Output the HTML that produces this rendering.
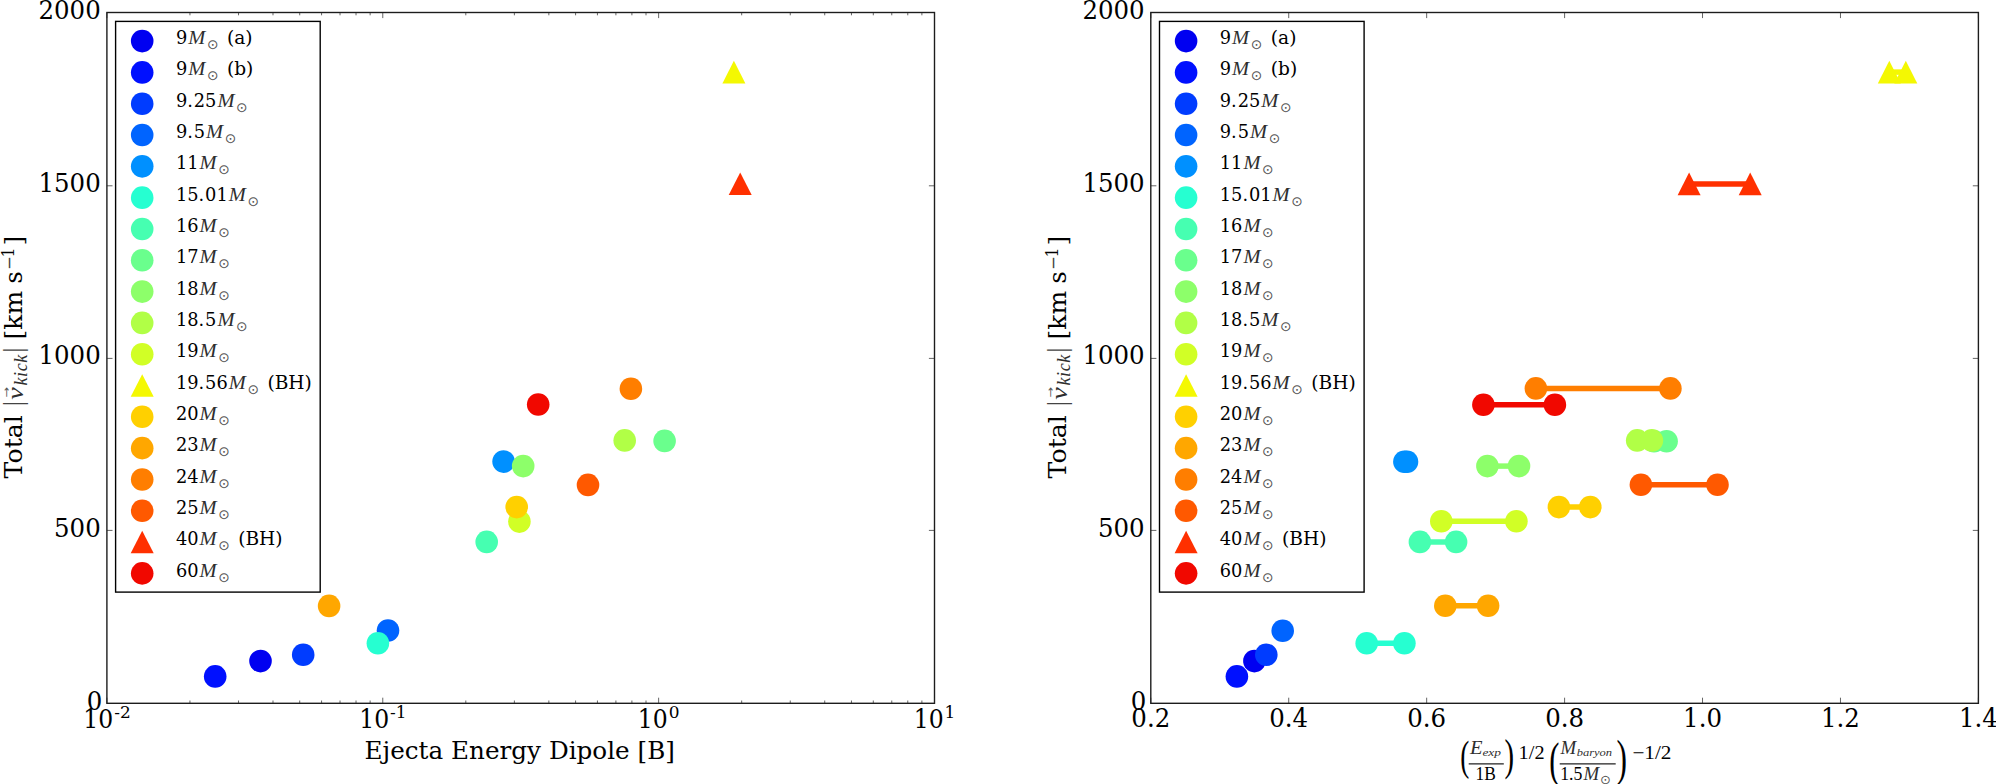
<!DOCTYPE html>
<html lang="en"><head><meta charset="utf-8"><title>Kick velocity vs ejecta energy dipole</title>
<style>
html,body{margin:0;padding:0;background:#fff}
body{width:1996px;height:784px;overflow:hidden}
svg{display:block}
text{font-family:'DejaVu Serif','Liberation Serif',serif;fill:#000}
.mi{font-family:'Liberation Serif','DejaVu Serif',serif;font-style:italic;fill:#2e2e2e}
.mr{font-family:'Liberation Serif','DejaVu Serif',serif}
.bar{fill:#444}
.sun{font-family:'DejaVu Sans','Liberation Sans',sans-serif;fill:#555}
</style></head><body>
<svg width="1996" height="784" viewBox="0 0 1996 784">
<rect width="1996" height="784" fill="#fff"/>
<g id="axes-left">
<circle cx="260.5" cy="661.1" r="11.3" fill="#0000f1"/>
<circle cx="215.2" cy="676.4" r="11.3" fill="#0010ff"/>
<circle cx="303.2" cy="654.8" r="11.3" fill="#003cff"/>
<circle cx="388" cy="630.5" r="11.3" fill="#0064ff"/>
<circle cx="503.6" cy="461.6" r="11.3" fill="#0090ff"/>
<circle cx="377.9" cy="643.2" r="11.3" fill="#26ffd1"/>
<circle cx="486.7" cy="541.9" r="11.3" fill="#46ffb1"/>
<circle cx="664.6" cy="440.9" r="11.3" fill="#6aff8d"/>
<circle cx="523.2" cy="466.1" r="11.3" fill="#8dff6a"/>
<circle cx="624.7" cy="440.4" r="11.3" fill="#b1ff46"/>
<circle cx="519.4" cy="521.6" r="11.3" fill="#d1ff26"/>
<polygon points="733.9,60.8 722.4,83.4 745.4,83.4" fill="#f4f802"/>
<circle cx="516.7" cy="507.1" r="11.3" fill="#ffd000"/>
<circle cx="329.1" cy="605.9" r="11.3" fill="#ffa700"/>
<circle cx="630.9" cy="388.7" r="11.3" fill="#ff7e00"/>
<circle cx="588" cy="484.9" r="11.3" fill="#ff5900"/>
<polygon points="740.2,172.5 728.7,195.1 751.7,195.1" fill="#ff3000"/>
<circle cx="538.2" cy="404.5" r="11.3" fill="#f10800"/>
<rect x="106.9" y="12.5" width="827.6" height="690.8" fill="none" stroke="#1c1c1c" stroke-width="1.39"/>
<text transform="translate(102.3 709.5) scale(0.955 1)" font-size="25.6" text-anchor="end">0</text>
<path d="M106.9 530.4h5.6M934.5 530.4h-5.6" stroke="#222" stroke-width="0.7"/>
<text transform="translate(100.7 536.5) scale(0.955 1)" font-size="25.6" text-anchor="end">500</text>
<path d="M106.9 358.4h5.6M934.5 358.4h-5.6" stroke="#222" stroke-width="0.7"/>
<text transform="translate(100.7 364.1) scale(0.955 1)" font-size="25.6" text-anchor="end">1000</text>
<path d="M106.9 185.8h5.6M934.5 185.8h-5.6" stroke="#222" stroke-width="0.7"/>
<text transform="translate(100.7 191.8) scale(0.955 1)" font-size="25.6" text-anchor="end">1500</text>
<text transform="translate(100.7 19.2) scale(0.955 1)" font-size="25.6" text-anchor="end">2000</text>
<path d="M106.9 703.3v-5.6M106.9 12.5v5.6" stroke="#222" stroke-width="0.7"/>
<path d="M189.94 703.3v-2.8M189.94 12.5v2.8" stroke="#222" stroke-width="0.7"/>
<path d="M238.52 703.3v-2.8M238.52 12.5v2.8" stroke="#222" stroke-width="0.7"/>
<path d="M272.99 703.3v-2.8M272.99 12.5v2.8" stroke="#222" stroke-width="0.7"/>
<path d="M299.72 703.3v-2.8M299.72 12.5v2.8" stroke="#222" stroke-width="0.7"/>
<path d="M321.57 703.3v-2.8M321.57 12.5v2.8" stroke="#222" stroke-width="0.7"/>
<path d="M340.03 703.3v-2.8M340.03 12.5v2.8" stroke="#222" stroke-width="0.7"/>
<path d="M356.03 703.3v-2.8M356.03 12.5v2.8" stroke="#222" stroke-width="0.7"/>
<path d="M370.14 703.3v-2.8M370.14 12.5v2.8" stroke="#222" stroke-width="0.7"/>
<text transform="translate(83.3 727.6) scale(0.92 1)" font-size="25.6">10</text>
<text transform="translate(114.2 718.2) scale(0.97 1)" font-size="17.5">-2</text>
<path d="M382.77 703.3v-5.6M382.77 12.5v5.6" stroke="#222" stroke-width="0.7"/>
<path d="M465.81 703.3v-2.8M465.81 12.5v2.8" stroke="#222" stroke-width="0.7"/>
<path d="M514.39 703.3v-2.8M514.39 12.5v2.8" stroke="#222" stroke-width="0.7"/>
<path d="M548.85 703.3v-2.8M548.85 12.5v2.8" stroke="#222" stroke-width="0.7"/>
<path d="M575.59 703.3v-2.8M575.59 12.5v2.8" stroke="#222" stroke-width="0.7"/>
<path d="M597.43 703.3v-2.8M597.43 12.5v2.8" stroke="#222" stroke-width="0.7"/>
<path d="M615.9 703.3v-2.8M615.9 12.5v2.8" stroke="#222" stroke-width="0.7"/>
<path d="M631.9 703.3v-2.8M631.9 12.5v2.8" stroke="#222" stroke-width="0.7"/>
<path d="M646.01 703.3v-2.8M646.01 12.5v2.8" stroke="#222" stroke-width="0.7"/>
<text transform="translate(359.17 727.6) scale(0.92 1)" font-size="25.6">10</text>
<text transform="translate(390.07 718.2) scale(0.97 1)" font-size="17.5">-1</text>
<path d="M658.63 703.3v-5.6M658.63 12.5v5.6" stroke="#222" stroke-width="0.7"/>
<path d="M741.68 703.3v-2.8M741.68 12.5v2.8" stroke="#222" stroke-width="0.7"/>
<path d="M790.26 703.3v-2.8M790.26 12.5v2.8" stroke="#222" stroke-width="0.7"/>
<path d="M824.72 703.3v-2.8M824.72 12.5v2.8" stroke="#222" stroke-width="0.7"/>
<path d="M851.46 703.3v-2.8M851.46 12.5v2.8" stroke="#222" stroke-width="0.7"/>
<path d="M873.3 703.3v-2.8M873.3 12.5v2.8" stroke="#222" stroke-width="0.7"/>
<path d="M891.77 703.3v-2.8M891.77 12.5v2.8" stroke="#222" stroke-width="0.7"/>
<path d="M907.77 703.3v-2.8M907.77 12.5v2.8" stroke="#222" stroke-width="0.7"/>
<path d="M921.88 703.3v-2.8M921.88 12.5v2.8" stroke="#222" stroke-width="0.7"/>
<text transform="translate(637.83 727.6) scale(0.92 1)" font-size="25.6">10</text>
<text transform="translate(668.73 718.2) scale(0.97 1)" font-size="17.5">0</text>
<path d="M934.5 703.3v-5.6M934.5 12.5v5.6" stroke="#222" stroke-width="0.7"/>
<text transform="translate(913.7 727.6) scale(0.92 1)" font-size="25.6">10</text>
<text transform="translate(944.6 718.2) scale(0.97 1)" font-size="17.5">1</text>
<rect x="115.6" y="21.4" width="204.6" height="570.7" fill="#fff" stroke="#000" stroke-width="1.39"/>
<circle cx="142.2" cy="41.1" r="11.3" fill="#0000f1"/>
<text transform="translate(175.9 43.8) scale(1 1)" x="0" font-size="17.8">9</text>
<text transform="translate(188.2 43.8) scale(1.15 1)" font-size="17.8" class="mi">M</text>
<text transform="translate(212.7 48.8)" font-size="13.8" class="sun" text-anchor="middle">⊙</text>
<text transform="translate(226.9 43.8) scale(1.045 1)" font-size="17.8">(a)</text>
<circle cx="142.2" cy="72.41" r="11.3" fill="#0010ff"/>
<text transform="translate(175.9 75.15) scale(1 1)" x="0" font-size="17.8">9</text>
<text transform="translate(188.2 75.15) scale(1.15 1)" font-size="17.8" class="mi">M</text>
<text transform="translate(212.7 80.15)" font-size="13.8" class="sun" text-anchor="middle">⊙</text>
<text transform="translate(226.9 75.15) scale(1.045 1)" font-size="17.8">(b)</text>
<circle cx="142.2" cy="103.72" r="11.3" fill="#003cff"/>
<text transform="translate(175.9 106.5) scale(1 1)" x="0 11.3 17.9 29.2" font-size="17.8">9.25</text>
<text transform="translate(217.4 106.5) scale(1.15 1)" font-size="17.8" class="mi">M</text>
<text transform="translate(241.9 111.5)" font-size="13.8" class="sun" text-anchor="middle">⊙</text>
<circle cx="142.2" cy="135.03" r="11.3" fill="#0064ff"/>
<text transform="translate(175.9 137.85) scale(1 1)" x="0 11.3 17.9" font-size="17.8">9.5</text>
<text transform="translate(206.1 137.85) scale(1.15 1)" font-size="17.8" class="mi">M</text>
<text transform="translate(230.6 142.85)" font-size="13.8" class="sun" text-anchor="middle">⊙</text>
<circle cx="142.2" cy="166.34" r="11.3" fill="#0090ff"/>
<text transform="translate(175.9 169.2) scale(1 1)" x="0 11.3" font-size="17.8">11</text>
<text transform="translate(199.5 169.2) scale(1.15 1)" font-size="17.8" class="mi">M</text>
<text transform="translate(224 174.2)" font-size="13.8" class="sun" text-anchor="middle">⊙</text>
<circle cx="142.2" cy="197.65" r="11.3" fill="#26ffd1"/>
<text transform="translate(175.9 200.55) scale(1 1)" x="0 11.3 22.6 29.2 40.5" font-size="17.8">15.01</text>
<text transform="translate(228.7 200.55) scale(1.15 1)" font-size="17.8" class="mi">M</text>
<text transform="translate(253.2 205.55)" font-size="13.8" class="sun" text-anchor="middle">⊙</text>
<circle cx="142.2" cy="228.96" r="11.3" fill="#46ffb1"/>
<text transform="translate(175.9 231.9) scale(1 1)" x="0 11.3" font-size="17.8">16</text>
<text transform="translate(199.5 231.9) scale(1.15 1)" font-size="17.8" class="mi">M</text>
<text transform="translate(224 236.9)" font-size="13.8" class="sun" text-anchor="middle">⊙</text>
<circle cx="142.2" cy="260.27" r="11.3" fill="#6aff8d"/>
<text transform="translate(175.9 263.25) scale(1 1)" x="0 11.3" font-size="17.8">17</text>
<text transform="translate(199.5 263.25) scale(1.15 1)" font-size="17.8" class="mi">M</text>
<text transform="translate(224 268.25)" font-size="13.8" class="sun" text-anchor="middle">⊙</text>
<circle cx="142.2" cy="291.58" r="11.3" fill="#8dff6a"/>
<text transform="translate(175.9 294.6) scale(1 1)" x="0 11.3" font-size="17.8">18</text>
<text transform="translate(199.5 294.6) scale(1.15 1)" font-size="17.8" class="mi">M</text>
<text transform="translate(224 299.6)" font-size="13.8" class="sun" text-anchor="middle">⊙</text>
<circle cx="142.2" cy="322.89" r="11.3" fill="#b1ff46"/>
<text transform="translate(175.9 325.95) scale(1 1)" x="0 11.3 22.6 29.2" font-size="17.8">18.5</text>
<text transform="translate(217.4 325.95) scale(1.15 1)" font-size="17.8" class="mi">M</text>
<text transform="translate(241.9 330.95)" font-size="13.8" class="sun" text-anchor="middle">⊙</text>
<circle cx="142.2" cy="354.2" r="11.3" fill="#d1ff26"/>
<text transform="translate(175.9 357.3) scale(1 1)" x="0 11.3" font-size="17.8">19</text>
<text transform="translate(199.5 357.3) scale(1.15 1)" font-size="17.8" class="mi">M</text>
<text transform="translate(224 362.3)" font-size="13.8" class="sun" text-anchor="middle">⊙</text>
<polygon points="142.2,374.21 130.7,396.81 153.7,396.81" fill="#f4f802"/>
<text transform="translate(175.9 388.65) scale(1 1)" x="0 11.3 22.6 29.2 40.5" font-size="17.8">19.56</text>
<text transform="translate(228.7 388.65) scale(1.15 1)" font-size="17.8" class="mi">M</text>
<text transform="translate(253.2 393.65)" font-size="13.8" class="sun" text-anchor="middle">⊙</text>
<text transform="translate(267.4 388.65) scale(1.045 1)" font-size="17.8">(BH)</text>
<circle cx="142.2" cy="416.82" r="11.3" fill="#ffd000"/>
<text transform="translate(175.9 420) scale(1 1)" x="0 11.3" font-size="17.8">20</text>
<text transform="translate(199.5 420) scale(1.15 1)" font-size="17.8" class="mi">M</text>
<text transform="translate(224 425)" font-size="13.8" class="sun" text-anchor="middle">⊙</text>
<circle cx="142.2" cy="448.13" r="11.3" fill="#ffa700"/>
<text transform="translate(175.9 451.35) scale(1 1)" x="0 11.3" font-size="17.8">23</text>
<text transform="translate(199.5 451.35) scale(1.15 1)" font-size="17.8" class="mi">M</text>
<text transform="translate(224 456.35)" font-size="13.8" class="sun" text-anchor="middle">⊙</text>
<circle cx="142.2" cy="479.44" r="11.3" fill="#ff7e00"/>
<text transform="translate(175.9 482.7) scale(1 1)" x="0 11.3" font-size="17.8">24</text>
<text transform="translate(199.5 482.7) scale(1.15 1)" font-size="17.8" class="mi">M</text>
<text transform="translate(224 487.7)" font-size="13.8" class="sun" text-anchor="middle">⊙</text>
<circle cx="142.2" cy="510.75" r="11.3" fill="#ff5900"/>
<text transform="translate(175.9 514.05) scale(1 1)" x="0 11.3" font-size="17.8">25</text>
<text transform="translate(199.5 514.05) scale(1.15 1)" font-size="17.8" class="mi">M</text>
<text transform="translate(224 519.05)" font-size="13.8" class="sun" text-anchor="middle">⊙</text>
<polygon points="142.2,530.76 130.7,553.36 153.7,553.36" fill="#ff3000"/>
<text transform="translate(175.9 545.4) scale(1 1)" x="0 11.3" font-size="17.8">40</text>
<text transform="translate(199.5 545.4) scale(1.15 1)" font-size="17.8" class="mi">M</text>
<text transform="translate(224 550.4)" font-size="13.8" class="sun" text-anchor="middle">⊙</text>
<text transform="translate(238.2 545.4) scale(1.045 1)" font-size="17.8">(BH)</text>
<circle cx="142.2" cy="573.37" r="11.3" fill="#f10800"/>
<text transform="translate(175.9 576.75) scale(1 1)" x="0 11.3" font-size="17.8">60</text>
<text transform="translate(199.5 576.75) scale(1.15 1)" font-size="17.8" class="mi">M</text>
<text transform="translate(224 581.75)" font-size="13.8" class="sun" text-anchor="middle">⊙</text>
<text transform="translate(519.7 758.5) scale(0.987 1)" font-size="25" text-anchor="middle">Ejecta Energy Dipole [B]</text>
</g>
<g id="axes-right">
<circle cx="1254.4" cy="661.1" r="11.3" fill="#0000f1"/>
<circle cx="1236.9" cy="676.4" r="11.3" fill="#0010ff"/>
<circle cx="1266.3" cy="654.7" r="11.3" fill="#003cff"/>
<circle cx="1282.7" cy="630.8" r="11.3" fill="#0064ff"/>
<path d="M1404.4 461.8H1407" stroke="#0090ff" stroke-width="5.5"/>
<circle cx="1404.4" cy="461.8" r="11.3" fill="#0090ff"/>
<circle cx="1407" cy="461.8" r="11.3" fill="#0090ff"/>
<path d="M1366.7 643.2H1404.4" stroke="#26ffd1" stroke-width="5.5"/>
<circle cx="1366.7" cy="643.2" r="11.3" fill="#26ffd1"/>
<circle cx="1404.4" cy="643.2" r="11.3" fill="#26ffd1"/>
<path d="M1419.9 541.9H1456.1" stroke="#46ffb1" stroke-width="5.5"/>
<circle cx="1419.9" cy="541.9" r="11.3" fill="#46ffb1"/>
<circle cx="1456.1" cy="541.9" r="11.3" fill="#46ffb1"/>
<path d="M1654 441.2H1666.6" stroke="#6aff8d" stroke-width="5.5"/>
<circle cx="1654" cy="441.2" r="11.3" fill="#6aff8d"/>
<circle cx="1666.6" cy="441.2" r="11.3" fill="#6aff8d"/>
<path d="M1487.4 466.1H1519" stroke="#8dff6a" stroke-width="5.5"/>
<circle cx="1487.4" cy="466.1" r="11.3" fill="#8dff6a"/>
<circle cx="1519" cy="466.1" r="11.3" fill="#8dff6a"/>
<path d="M1637.2 440.4H1651.9" stroke="#b1ff46" stroke-width="5.5"/>
<circle cx="1637.2" cy="440.4" r="11.3" fill="#b1ff46"/>
<circle cx="1651.9" cy="440.4" r="11.3" fill="#b1ff46"/>
<path d="M1441.3 521.3H1516.4" stroke="#d1ff26" stroke-width="5.5"/>
<circle cx="1441.3" cy="521.3" r="11.3" fill="#d1ff26"/>
<circle cx="1516.4" cy="521.3" r="11.3" fill="#d1ff26"/>
<path d="M1889.3 72.1H1905.8" stroke="#f4f802" stroke-width="5.5"/>
<polygon points="1889.3,60.8 1877.8,83.4 1900.8,83.4" fill="#f4f802"/>
<polygon points="1905.8,60.8 1894.3,83.4 1917.3,83.4" fill="#f4f802"/>
<path d="M1558.9 507.1H1590.3" stroke="#ffd000" stroke-width="5.5"/>
<circle cx="1558.9" cy="507.1" r="11.3" fill="#ffd000"/>
<circle cx="1590.3" cy="507.1" r="11.3" fill="#ffd000"/>
<path d="M1445.3 605.7H1488.1" stroke="#ffa700" stroke-width="5.5"/>
<circle cx="1445.3" cy="605.7" r="11.3" fill="#ffa700"/>
<circle cx="1488.1" cy="605.7" r="11.3" fill="#ffa700"/>
<path d="M1535.9 388.4H1670.4" stroke="#ff7e00" stroke-width="5.5"/>
<circle cx="1535.9" cy="388.4" r="11.3" fill="#ff7e00"/>
<circle cx="1670.4" cy="388.4" r="11.3" fill="#ff7e00"/>
<path d="M1640.9 484.8H1717.5" stroke="#ff5900" stroke-width="5.5"/>
<circle cx="1640.9" cy="484.8" r="11.3" fill="#ff5900"/>
<circle cx="1717.5" cy="484.8" r="11.3" fill="#ff5900"/>
<path d="M1689.1 183.9H1750.2" stroke="#ff3000" stroke-width="5.5"/>
<polygon points="1689.1,172.6 1677.6,195.2 1700.6,195.2" fill="#ff3000"/>
<polygon points="1750.2,172.6 1738.7,195.2 1761.7,195.2" fill="#ff3000"/>
<path d="M1483.4 404.7H1554.9" stroke="#f10800" stroke-width="5.5"/>
<circle cx="1483.4" cy="404.7" r="11.3" fill="#f10800"/>
<circle cx="1554.9" cy="404.7" r="11.3" fill="#f10800"/>
<rect x="1150.8" y="12.5" width="827.6" height="690.8" fill="none" stroke="#1c1c1c" stroke-width="1.39"/>
<text transform="translate(1146.2 709.5) scale(0.955 1)" font-size="25.6" text-anchor="end">0</text>
<path d="M1150.8 530.4h5.6M1978.4 530.4h-5.6" stroke="#222" stroke-width="0.7"/>
<text transform="translate(1144.6 536.5) scale(0.955 1)" font-size="25.6" text-anchor="end">500</text>
<path d="M1150.8 358.4h5.6M1978.4 358.4h-5.6" stroke="#222" stroke-width="0.7"/>
<text transform="translate(1144.6 364.1) scale(0.955 1)" font-size="25.6" text-anchor="end">1000</text>
<path d="M1150.8 185.8h5.6M1978.4 185.8h-5.6" stroke="#222" stroke-width="0.7"/>
<text transform="translate(1144.6 191.8) scale(0.955 1)" font-size="25.6" text-anchor="end">1500</text>
<text transform="translate(1144.6 19.2) scale(0.955 1)" font-size="25.6" text-anchor="end">2000</text>
<path d="M1150.8 703.3v-5.6M1150.8 12.5v5.6" stroke="#222" stroke-width="0.7"/>
<text transform="translate(1150.8 727) scale(0.955 1)" font-size="25.6" text-anchor="middle">0.2</text>
<path d="M1288.73 703.3v-5.6M1288.73 12.5v5.6" stroke="#222" stroke-width="0.7"/>
<text transform="translate(1288.73 727) scale(0.955 1)" font-size="25.6" text-anchor="middle">0.4</text>
<path d="M1426.67 703.3v-5.6M1426.67 12.5v5.6" stroke="#222" stroke-width="0.7"/>
<text transform="translate(1426.67 727) scale(0.955 1)" font-size="25.6" text-anchor="middle">0.6</text>
<path d="M1564.6 703.3v-5.6M1564.6 12.5v5.6" stroke="#222" stroke-width="0.7"/>
<text transform="translate(1564.6 727) scale(0.955 1)" font-size="25.6" text-anchor="middle">0.8</text>
<path d="M1702.53 703.3v-5.6M1702.53 12.5v5.6" stroke="#222" stroke-width="0.7"/>
<text transform="translate(1702.53 727) scale(0.955 1)" font-size="25.6" text-anchor="middle">1.0</text>
<path d="M1840.47 703.3v-5.6M1840.47 12.5v5.6" stroke="#222" stroke-width="0.7"/>
<text transform="translate(1840.47 727) scale(0.955 1)" font-size="25.6" text-anchor="middle">1.2</text>
<path d="M1978.4 703.3v-5.6M1978.4 12.5v5.6" stroke="#222" stroke-width="0.7"/>
<text transform="translate(1978.4 727) scale(0.955 1)" font-size="25.6" text-anchor="middle">1.4</text>
<rect x="1159.5" y="21.4" width="204.6" height="570.7" fill="#fff" stroke="#000" stroke-width="1.39"/>
<circle cx="1186.1" cy="41.1" r="11.3" fill="#0000f1"/>
<text transform="translate(1219.8 43.8) scale(1 1)" x="0" font-size="17.8">9</text>
<text transform="translate(1232.1 43.8) scale(1.15 1)" font-size="17.8" class="mi">M</text>
<text transform="translate(1256.6 48.8)" font-size="13.8" class="sun" text-anchor="middle">⊙</text>
<text transform="translate(1270.8 43.8) scale(1.045 1)" font-size="17.8">(a)</text>
<circle cx="1186.1" cy="72.41" r="11.3" fill="#0010ff"/>
<text transform="translate(1219.8 75.15) scale(1 1)" x="0" font-size="17.8">9</text>
<text transform="translate(1232.1 75.15) scale(1.15 1)" font-size="17.8" class="mi">M</text>
<text transform="translate(1256.6 80.15)" font-size="13.8" class="sun" text-anchor="middle">⊙</text>
<text transform="translate(1270.8 75.15) scale(1.045 1)" font-size="17.8">(b)</text>
<circle cx="1186.1" cy="103.72" r="11.3" fill="#003cff"/>
<text transform="translate(1219.8 106.5) scale(1 1)" x="0 11.3 17.9 29.2" font-size="17.8">9.25</text>
<text transform="translate(1261.3 106.5) scale(1.15 1)" font-size="17.8" class="mi">M</text>
<text transform="translate(1285.8 111.5)" font-size="13.8" class="sun" text-anchor="middle">⊙</text>
<circle cx="1186.1" cy="135.03" r="11.3" fill="#0064ff"/>
<text transform="translate(1219.8 137.85) scale(1 1)" x="0 11.3 17.9" font-size="17.8">9.5</text>
<text transform="translate(1250 137.85) scale(1.15 1)" font-size="17.8" class="mi">M</text>
<text transform="translate(1274.5 142.85)" font-size="13.8" class="sun" text-anchor="middle">⊙</text>
<circle cx="1186.1" cy="166.34" r="11.3" fill="#0090ff"/>
<text transform="translate(1219.8 169.2) scale(1 1)" x="0 11.3" font-size="17.8">11</text>
<text transform="translate(1243.4 169.2) scale(1.15 1)" font-size="17.8" class="mi">M</text>
<text transform="translate(1267.9 174.2)" font-size="13.8" class="sun" text-anchor="middle">⊙</text>
<circle cx="1186.1" cy="197.65" r="11.3" fill="#26ffd1"/>
<text transform="translate(1219.8 200.55) scale(1 1)" x="0 11.3 22.6 29.2 40.5" font-size="17.8">15.01</text>
<text transform="translate(1272.6 200.55) scale(1.15 1)" font-size="17.8" class="mi">M</text>
<text transform="translate(1297.1 205.55)" font-size="13.8" class="sun" text-anchor="middle">⊙</text>
<circle cx="1186.1" cy="228.96" r="11.3" fill="#46ffb1"/>
<text transform="translate(1219.8 231.9) scale(1 1)" x="0 11.3" font-size="17.8">16</text>
<text transform="translate(1243.4 231.9) scale(1.15 1)" font-size="17.8" class="mi">M</text>
<text transform="translate(1267.9 236.9)" font-size="13.8" class="sun" text-anchor="middle">⊙</text>
<circle cx="1186.1" cy="260.27" r="11.3" fill="#6aff8d"/>
<text transform="translate(1219.8 263.25) scale(1 1)" x="0 11.3" font-size="17.8">17</text>
<text transform="translate(1243.4 263.25) scale(1.15 1)" font-size="17.8" class="mi">M</text>
<text transform="translate(1267.9 268.25)" font-size="13.8" class="sun" text-anchor="middle">⊙</text>
<circle cx="1186.1" cy="291.58" r="11.3" fill="#8dff6a"/>
<text transform="translate(1219.8 294.6) scale(1 1)" x="0 11.3" font-size="17.8">18</text>
<text transform="translate(1243.4 294.6) scale(1.15 1)" font-size="17.8" class="mi">M</text>
<text transform="translate(1267.9 299.6)" font-size="13.8" class="sun" text-anchor="middle">⊙</text>
<circle cx="1186.1" cy="322.89" r="11.3" fill="#b1ff46"/>
<text transform="translate(1219.8 325.95) scale(1 1)" x="0 11.3 22.6 29.2" font-size="17.8">18.5</text>
<text transform="translate(1261.3 325.95) scale(1.15 1)" font-size="17.8" class="mi">M</text>
<text transform="translate(1285.8 330.95)" font-size="13.8" class="sun" text-anchor="middle">⊙</text>
<circle cx="1186.1" cy="354.2" r="11.3" fill="#d1ff26"/>
<text transform="translate(1219.8 357.3) scale(1 1)" x="0 11.3" font-size="17.8">19</text>
<text transform="translate(1243.4 357.3) scale(1.15 1)" font-size="17.8" class="mi">M</text>
<text transform="translate(1267.9 362.3)" font-size="13.8" class="sun" text-anchor="middle">⊙</text>
<polygon points="1186.1,374.21 1174.6,396.81 1197.6,396.81" fill="#f4f802"/>
<text transform="translate(1219.8 388.65) scale(1 1)" x="0 11.3 22.6 29.2 40.5" font-size="17.8">19.56</text>
<text transform="translate(1272.6 388.65) scale(1.15 1)" font-size="17.8" class="mi">M</text>
<text transform="translate(1297.1 393.65)" font-size="13.8" class="sun" text-anchor="middle">⊙</text>
<text transform="translate(1311.3 388.65) scale(1.045 1)" font-size="17.8">(BH)</text>
<circle cx="1186.1" cy="416.82" r="11.3" fill="#ffd000"/>
<text transform="translate(1219.8 420) scale(1 1)" x="0 11.3" font-size="17.8">20</text>
<text transform="translate(1243.4 420) scale(1.15 1)" font-size="17.8" class="mi">M</text>
<text transform="translate(1267.9 425)" font-size="13.8" class="sun" text-anchor="middle">⊙</text>
<circle cx="1186.1" cy="448.13" r="11.3" fill="#ffa700"/>
<text transform="translate(1219.8 451.35) scale(1 1)" x="0 11.3" font-size="17.8">23</text>
<text transform="translate(1243.4 451.35) scale(1.15 1)" font-size="17.8" class="mi">M</text>
<text transform="translate(1267.9 456.35)" font-size="13.8" class="sun" text-anchor="middle">⊙</text>
<circle cx="1186.1" cy="479.44" r="11.3" fill="#ff7e00"/>
<text transform="translate(1219.8 482.7) scale(1 1)" x="0 11.3" font-size="17.8">24</text>
<text transform="translate(1243.4 482.7) scale(1.15 1)" font-size="17.8" class="mi">M</text>
<text transform="translate(1267.9 487.7)" font-size="13.8" class="sun" text-anchor="middle">⊙</text>
<circle cx="1186.1" cy="510.75" r="11.3" fill="#ff5900"/>
<text transform="translate(1219.8 514.05) scale(1 1)" x="0 11.3" font-size="17.8">25</text>
<text transform="translate(1243.4 514.05) scale(1.15 1)" font-size="17.8" class="mi">M</text>
<text transform="translate(1267.9 519.05)" font-size="13.8" class="sun" text-anchor="middle">⊙</text>
<polygon points="1186.1,530.76 1174.6,553.36 1197.6,553.36" fill="#ff3000"/>
<text transform="translate(1219.8 545.4) scale(1 1)" x="0 11.3" font-size="17.8">40</text>
<text transform="translate(1243.4 545.4) scale(1.15 1)" font-size="17.8" class="mi">M</text>
<text transform="translate(1267.9 550.4)" font-size="13.8" class="sun" text-anchor="middle">⊙</text>
<text transform="translate(1282.1 545.4) scale(1.045 1)" font-size="17.8">(BH)</text>
<circle cx="1186.1" cy="573.37" r="11.3" fill="#f10800"/>
<text transform="translate(1219.8 576.75) scale(1 1)" x="0 11.3" font-size="17.8">60</text>
<text transform="translate(1243.4 576.75) scale(1.15 1)" font-size="17.8" class="mi">M</text>
<text transform="translate(1267.9 581.75)" font-size="13.8" class="sun" text-anchor="middle">⊙</text>
</g>
<g transform="translate(21.7 482.1) rotate(-90)">
<text transform="translate(3.7 0) scale(1.01 1)" font-size="25">Total</text>
<text transform="translate(78.5 0.5)" font-size="26.5" class="mr bar" text-anchor="middle">|</text>
<text transform="translate(82.4 1.1) scale(1.2 1)" font-size="23.3" class="mi">v</text>
<text transform="translate(89.8 -11.6) scale(1.25 1)" font-size="10" class="sun" text-anchor="middle">→</text>
<text transform="translate(96.6 4.8)" font-size="18" class="mi" letter-spacing="0.6">kick</text>
<text transform="translate(132.1 0.5)" font-size="26.5" class="mr bar" text-anchor="middle">|</text>
<text transform="translate(142.7 0)" font-size="25">[km</text>
<text transform="translate(198.6 0) scale(0.95 1)" font-size="25">s</text>
<text transform="translate(212.1 -7) scale(0.95 1)" font-size="17.5" class="bar">−</text>
<text transform="translate(224.7 -7.8) scale(0.9 1)" font-size="17.5">1</text>
<text transform="translate(236.9 0) scale(0.97 1)" font-size="25">]</text>
</g>
<g transform="translate(1065.6 482.1) rotate(-90)">
<text transform="translate(3.7 0) scale(1.01 1)" font-size="25">Total</text>
<text transform="translate(78.5 0.5)" font-size="26.5" class="mr bar" text-anchor="middle">|</text>
<text transform="translate(82.4 1.1) scale(1.2 1)" font-size="23.3" class="mi">v</text>
<text transform="translate(89.8 -11.6) scale(1.25 1)" font-size="10" class="sun" text-anchor="middle">→</text>
<text transform="translate(96.6 4.8)" font-size="18" class="mi" letter-spacing="0.6">kick</text>
<text transform="translate(132.1 0.5)" font-size="26.5" class="mr bar" text-anchor="middle">|</text>
<text transform="translate(142.7 0)" font-size="25">[km</text>
<text transform="translate(198.6 0) scale(0.95 1)" font-size="25">s</text>
<text transform="translate(212.1 -7) scale(0.95 1)" font-size="17.5" class="bar">−</text>
<text transform="translate(224.7 -7.8) scale(0.9 1)" font-size="17.5">1</text>
<text transform="translate(236.9 0) scale(0.97 1)" font-size="25">]</text>
</g>
<g id="xlabel-right">
<text transform="translate(1460.2 769.8) scale(0.65 1)" font-size="41.8" class="mr">(</text>
<text transform="translate(1469.9 753.8) scale(1.05 1)" font-size="19.5" class="mi">E</text>
<text transform="translate(1482.4 755.8) scale(1.27 1)" font-size="10.6" class="mi">exp</text>
<text transform="translate(1475.6 779.6) scale(0.93 1)" font-size="18.7" class="mr">1B</text>
<text transform="translate(1504.6 770.1) scale(0.66 1)" font-size="43.5" class="mr">)</text>
<text transform="translate(1518.6 758.8) scale(1.11 1)" font-size="18.3" class="mr">1/2</text>
<text transform="translate(1549.2 775.8) scale(0.62 1)" font-size="49" class="mr">(</text>
<text transform="translate(1560.6 753.6)" font-size="18.8" class="mi">M</text>
<text transform="translate(1576.7 755.8) scale(1.18 1)" font-size="10.6" class="mi">baryon</text>
<text transform="translate(1560.2 779.6) scale(0.95 1)" font-size="18.7" class="mr">1.5</text>
<text transform="translate(1583.6 779.6)" font-size="18.8" class="mi">M</text>
<text transform="translate(1616.6 774.6) scale(0.63 1)" font-size="50" class="mr">)</text>
<text transform="translate(1632.4 759) scale(1.16 1)" font-size="18.3" class="mr">−1/2</text>
<text transform="translate(1605.4 783.8)" font-size="12.8" class="sun" text-anchor="middle">⊙</text>
<path d="M1468.7 763.8H1503.8M1559.7 763.8H1615.7" stroke="#222" stroke-width="1.3"/>
</g>
</svg></body></html>
